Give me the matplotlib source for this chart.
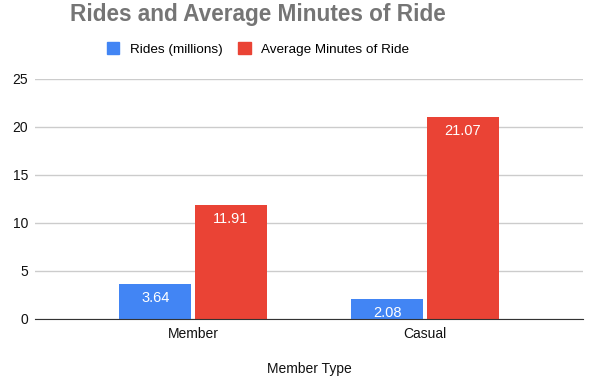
import numpy as np
import matplotlib
matplotlib.use("Agg")
import matplotlib.pyplot as plt

plt.rcParams['font.family'] = ['Liberation Sans', 'DejaVu Sans']

categories = ['Member', 'Casual']
rides = [3.64, 2.08]
avg_minutes = [11.91, 21.07]
series_names = ['Rides (millions)', 'Average Minutes of Ride']
colors = ['#4285F4', '#EA4335']

fig = plt.figure(figsize=(5.93, 3.86), dpi=100)
ax = fig.add_axes([35 / 593, 1 - 319 / 386, 548 / 593, 240 / 386])

x = np.arange(len(categories))
w = 0.31
off = 0.163
for vals, dx, c in [(rides, -off, colors[0]), (avg_minutes, off, colors[1])]:
    bars = ax.bar(x + dx, vals, w, color=c, zorder=3)
    for b, v in zip(bars, vals):
        ax.text(b.get_x() + b.get_width() / 2, v - 0.75, f'{v:.2f}',
                ha='center', va='top', color='white', fontsize=10.5, zorder=4)

ax.set_xlim(-0.681, 1.681)
ax.set_ylim(0, 25)
ax.set_yticks([0, 5, 10, 15, 20, 25])
ax.set_xticks(x)
ax.set_xticklabels(categories, fontsize=10)
ax.tick_params(axis='y', length=0, labelsize=10, pad=5, labelcolor='#111111')
ax.tick_params(axis='x', length=0, pad=6, labelcolor='#111111')
ax.grid(axis='y', color='#cccccc', linewidth=1, zorder=0)
for s in ['top', 'right', 'left']:
    ax.spines[s].set_visible(False)
ax.spines['bottom'].set_color('#333333')
ax.spines['bottom'].set_zorder(5)
ax.set_xlabel('Member Type', fontsize=10, color='#111111', labelpad=15)

cx = 258 / 593
fig.text(cx, 1 - 15 / 386, 'Rides and Average Minutes of Ride', ha='center', va='center',
         fontsize=16.3, fontweight='bold', color='#757575')

handles = [plt.Rectangle((0, 0), 1, 1, color=c) for c in colors]
fig.legend(handles, series_names, loc='center', bbox_to_anchor=(cx, 1 - 49 / 386),
           ncol=2, frameon=False, fontsize=9.7, handlelength=0.9, handleheight=0.9,
           columnspacing=1.2, handletextpad=0.8)

fig.savefig('out.png', dpi=100)
